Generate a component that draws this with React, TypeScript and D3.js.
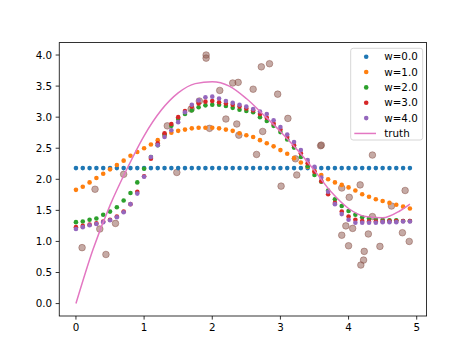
import React from "react";
import * as d3 from "d3";

const xs = [0.0,0.1,0.2,0.3,0.4,0.5,0.6,0.7,0.8,0.9,1.0,1.1,1.2,1.3,1.4,1.5,1.6,1.7,1.8,1.9,2.0,2.1,2.2,2.3,2.4,2.5,2.6,2.7,2.8,2.9,3.0,3.1,3.2,3.3,3.4,3.5,3.6,3.7,3.8,3.9,4.0,4.1,4.2,4.3,4.4,4.5,4.6,4.7,4.8,4.9];

const w0 = [2.18,2.18,2.18,2.18,2.18,2.18,2.18,2.18,2.18,2.18,2.18,2.18,2.18,2.18,2.18,2.18,2.18,2.18,2.18,2.18,2.18,2.18,2.18,2.18,2.18,2.18,2.18,2.18,2.18,2.18,2.18,2.18,2.18,2.18,2.18,2.18,2.18,2.18,2.18,2.18,2.18,2.18,2.18,2.18,2.18,2.18,2.18,2.18,2.18,2.18];
const w1 = [1.83,1.88,1.95,2.02,2.09,2.16,2.23,2.30,2.38,2.44,2.50,2.56,2.63,2.70,2.75,2.78,2.80,2.82,2.83,2.83,2.83,2.82,2.80,2.78,2.74,2.71,2.68,2.63,2.58,2.53,2.47,2.41,2.34,2.27,2.20,2.13,2.07,2.00,1.95,1.91,1.87,1.82,1.76,1.72,1.68,1.65,1.62,1.59,1.56,1.53];
const w2 = [1.31,1.32,1.35,1.37,1.43,1.48,1.55,1.66,1.78,1.95,2.17,2.36,2.55,2.72,2.86,2.97,3.05,3.11,3.16,3.19,3.20,3.20,3.18,3.15,3.12,3.10,3.08,3.00,2.94,2.86,2.76,2.64,2.51,2.36,2.21,2.07,1.96,1.82,1.68,1.57,1.49,1.43,1.39,1.37,1.36,1.35,1.34,1.34,1.33,1.33];
const w3 = [1.23,1.25,1.27,1.29,1.32,1.35,1.40,1.48,1.60,1.80,2.05,2.33,2.58,2.74,2.89,3.00,3.10,3.17,3.22,3.25,3.26,3.24,3.22,3.20,3.17,3.14,3.11,3.05,2.99,2.90,2.80,2.68,2.55,2.42,2.26,2.12,1.97,1.76,1.62,1.48,1.40,1.35,1.33,1.32,1.32,1.32,1.33,1.33,1.33,1.33];
const w4 = [1.20,1.23,1.26,1.28,1.31,1.34,1.39,1.47,1.60,1.77,2.04,2.36,2.55,2.68,2.79,2.92,3.08,3.20,3.27,3.32,3.33,3.30,3.26,3.23,3.20,3.17,3.13,3.09,3.05,2.95,2.84,2.72,2.60,2.47,2.31,2.20,2.03,1.80,1.60,1.44,1.35,1.30,1.30,1.30,1.30,1.31,1.31,1.31,1.32,1.32];

const seriesLabels = ["w=0.0", "w=1.0", "w=2.0", "w=3.0", "w=4.0"];
const seriesColors = ["#1f77b4", "#ff7f0e", "#2ca02c", "#d62728", "#9467bd"];
const seriesValues = [w0, w1, w2, w3, w4];

const obsX = [0.09,0.28,0.35,0.44,0.58,0.70,1.34,1.48,1.69,1.81,1.91,1.91,1.96,2.11,2.20,2.30,2.38,2.36,2.39,2.60,2.65,2.72,2.74,2.84,2.96,3.01,3.11,3.22,3.24,3.59,3.60,3.90,3.90,3.96,4.00,4.01,4.06,4.17,4.18,4.22,4.23,4.29,4.35,4.35,4.46,4.63,4.79,4.83,4.89];
const obsY = [0.90,1.84,1.20,0.79,1.29,2.08,2.86,2.11,3.13,3.26,4.00,3.95,2.82,3.43,2.97,3.55,3.56,2.89,2.71,3.45,2.40,3.81,2.77,3.86,3.37,1.89,2.98,2.33,2.07,2.54,2.55,1.86,1.10,1.25,0.93,1.71,1.21,1.91,0.62,0.70,0.84,1.12,2.39,1.40,0.92,1.57,1.14,1.82,1.00];

const truthX = [0,0.25,0.5,0.75,1.0,1.25,1.5,1.75,2.0,2.25,2.5,2.75,3.0,3.25,3.5,3.75,4.0,4.25,4.5,4.75,4.9];
const truthY = [0.0,0.87,1.58,2.17,2.70,3.11,3.39,3.54,3.57,3.50,3.30,3.04,2.77,2.47,2.14,1.79,1.53,1.40,1.38,1.49,1.60];

const xTicks = [0, 1, 2, 3, 4, 5];
const yTicks = [0.0, 0.5, 1.0, 1.5, 2.0, 2.5, 3.0, 3.5, 4.0];

const W = 474, H = 355;
const L = 59.25, R = 426.6, T = 42.6, B = 316;
const FONT = "'DejaVu Sans', sans-serif";
const FS = 10.3;

export default function App() {
  const x = d3.scaleLinear().domain([-0.245, 5.145]).range([L, R]);
  const y = d3.scaleLinear().domain([-0.2, 4.2]).range([B, T]);
  const truthLine = d3.line<number>()
    .x((_, i) => x(truthX[i]))
    .y((d) => y(d))
    .curve(d3.curveMonotoneX);

  const legX = 350.7, legY = 48.3, legW = 72, legH = 91.7;
  const rowY = (i: number) => 56.7 + i * 15.35;

  return (
    <svg width={W} height={H} style={{ position: "absolute", left: 0, top: 0, background: "#fff" }}
      fontFamily={FONT} fontSize={FS}>
      <rect x={0} y={0} width={W} height={H} fill="#fff" />
      <defs>
        <clipPath id="plotclip">
          <rect x={L} y={T} width={R - L} height={B - T} />
        </clipPath>
      </defs>
      <g clipPath="url(#plotclip)">
        {obsX.map((vx, i) => (
          <circle key={"o" + i} cx={x(vx)} cy={y(obsY[i])} r={3.3}
            fill="#8c564b" fillOpacity={0.5} stroke="#8c564b" strokeOpacity={0.5} strokeWidth={1} />
        ))}
        {seriesValues.map((vals, s) => (
          <g key={"s" + s}>
            {vals.map((v, i) => (
              <circle key={i} cx={x(xs[i])} cy={y(v)} r={2.3} fill={seriesColors[s]} />
            ))}
          </g>
        ))}
        <path d={truthLine(truthY) || ""} fill="none" stroke="#e377c2" strokeWidth={1.5} />
      </g>
      <rect x={L} y={T} width={R - L} height={B - T} fill="none" stroke="#000" strokeWidth={0.8} />
      {xTicks.map((t) => (
        <g key={"xt" + t}>
          <line x1={x(t)} x2={x(t)} y1={B} y2={B + 3.6} stroke="#000" strokeWidth={0.8} />
          <text x={x(t)} y={B + 3.6 + 3.6 + FS * 0.76} textAnchor="middle" fill="#000">{t}</text>
        </g>
      ))}
      {yTicks.map((t) => (
        <g key={"yt" + t}>
          <line x1={L - 3.6} x2={L} y1={y(t)} y2={y(t)} stroke="#000" strokeWidth={0.8} />
          <text x={L - 3.6 - 3.6} y={y(t)} dy="0.36em" textAnchor="end" fill="#000">{t.toFixed(1)}</text>
        </g>
      ))}
      <rect x={legX} y={legY} width={legW} height={legH} rx={2.5} fill="#fff" fillOpacity={0.8}
        stroke="#cccccc" strokeWidth={0.8} />
      {seriesLabels.map((lab, i) => (
        <g key={"lg" + i}>
          <circle cx={366.2} cy={rowY(i)} r={2.3} fill={seriesColors[i]} />
          <text x={384.3} y={rowY(i)} dy="0.36em" fill="#000">{lab}</text>
        </g>
      ))}
      <line x1={354.3} x2={376} y1={rowY(5)} y2={rowY(5)} stroke="#e377c2" strokeWidth={1.5} />
      <text x={384.3} y={rowY(5)} dy="0.36em" fill="#000">truth</text>
    </svg>
  );
}
